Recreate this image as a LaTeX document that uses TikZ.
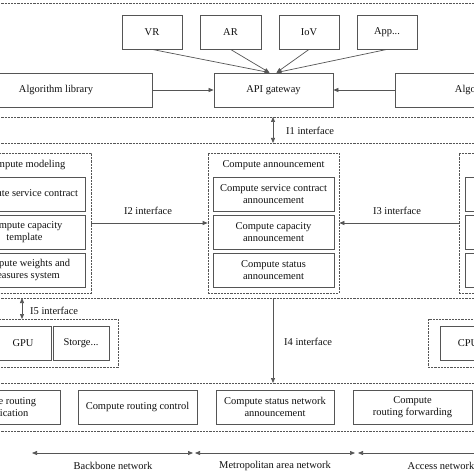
\documentclass[tikz,border=0pt]{standalone}
\usepackage{fontspec}
\setmainfont{Liberation Serif}
\usetikzlibrary{arrows.meta}
\definecolor{linegray}{HTML}{555555}
\definecolor{txtgray}{HTML}{111111}
\tikzset{
  every node/.style={font=\fontsize{10.5}{12.5}\selectfont, text=txtgray, inner sep=0pt, align=center},
  box/.style={draw=linegray, line width=0.8bp, minimum height=34bp},
  dbox/.style={draw=linegray, line width=0.7bp, dash pattern=on 2.2bp off 1bp},
  dline/.style={draw=linegray, line width=0.7bp, dash pattern=on 2.2bp off 1bp},
  conn/.style={draw=linegray, line width=0.7bp, -{Triangle[length=5bp,width=4bp]}},
  bconn/.style={draw=linegray, line width=0.7bp, {Triangle[length=5bp,width=4bp]}-{Triangle[length=5bp,width=4bp]}},
  lbl/.style={anchor=base west}
}
\begin{document}
\begin{tikzpicture}[x=1bp,y=-1bp]
\useasboundingbox (0,0) rectangle (474,474);
\clip (0,0) rectangle (474,474);
\fill[white] (0,0) rectangle (474,474);

% horizontal dashed separators
\foreach \yy in {3,117,143,298,383,431}
  \draw[dline] (-5,\yy) -- (480,\yy);

% top application boxes
\node[box, minimum width=60bp] (vr)  at (152,32)   {VR};
\node[box, minimum width=61bp] (ar)  at (230.5,32) {AR};
\node[box, minimum width=60bp] (iov) at (309,32)   {IoV};
\node[box, minimum width=60bp] (app) at (387,32)   {App...};

% gateway row
\node[box, minimum width=192bp] (alg)  at (56,90)    {Algorithm library};
\node[box, minimum width=119bp] (api)  at (273.5,90) {API gateway};
\node[box, minimum width=194bp] (alg2) at (492,90)   {Algorithm library};

\draw[conn] (vr.south)  -- ([xshift=-4bp]api.north);
\draw[conn] (ar.south)  -- ([xshift=-4bp]api.north);
\draw[conn] (iov.south) -- ([xshift=3bp]api.north);
\draw[conn] (app.south) -- ([xshift=3bp]api.north);
\draw[conn] (alg.east)  -- (api.west);
\draw[conn] (alg2.west) -- (api.east);

% I1
\coordinate (i1a) at (273,117);
\coordinate (i1b) at (273,143);
\draw[bconn] (i1a) -- (i1b);
\node[lbl] (i1l) at (286,135) {I1 interface};

% middle dashed groups
\node[dbox, minimum width=132bp, minimum height=140bp] (model) at (25,223) {};
\node[dbox, minimum width=131bp, minimum height=140bp] (ann)   at (273.5,223) {};
\node[dbox, minimum width=131bp, minimum height=140bp] (rgrp)  at (524.5,223) {};

\node (modelt) at (25,165)    {Compute modeling};
\node (annt)   at (273.5,165) {Compute announcement};

\node[box, minimum width=121bp] (m1) at (24.5,194) {Compute service contract};
\node[box, minimum width=121bp] (m2) at (24.5,232) {Compute capacity\\template};
\node[box, minimum width=121bp] (m3) at (24.5,270) {Compute weights and\\measures system};

\node[box, minimum width=121bp] (a1) at (273.5,194) {Compute service contract\\announcement};
\node[box, minimum width=121bp] (a2) at (273.5,232) {Compute capacity\\announcement};
\node[box, minimum width=121bp] (a3) at (273.5,270) {Compute status\\announcement};

\node[box, minimum width=121bp] (r1) at (525.5,194) {};
\node[box, minimum width=121bp] (r2) at (525.5,232) {};
\node[box, minimum width=121bp] (r3) at (525.5,270) {};

\draw[conn] (model.east) -- (ann.west);
\node (i2l) at (148,211) {I2 interface};
\draw[conn] (rgrp.west) -- (ann.east);
\node (i3l) at (397,211) {I3 interface};

% I5
\coordinate (i5a) at (22,298);
\coordinate (i5b) at (22,319);
\draw[bconn] (i5a) -- (i5b);
\node[lbl] (i5l) at (30,314) {I5 interface};

% resource groups
\node[dbox, minimum width=133bp, minimum height=48bp] (resl) at (51.5,343) {};
\node[box, minimum width=56bp] (gpu) at (23,343) {GPU};
\node[box, minimum width=56bp] (sto) at (81,343) {Storge...};
\node[dbox, minimum width=133bp, minimum height=48bp] (resr) at (494.5,343) {};
\node[box, minimum width=56bp] (cpu) at (468,343) {CPU};

% I4
\coordinate (i4a) at (273,298);
\coordinate (i4b) at (273,383);
\draw[conn] (i4a) -- (i4b);
\node[lbl] (i4l) at (284,345) {I4 interface};

% routing row
\node[box, minimum width=119bp] (rt1) at (0.5,407)   {Compute routing\\identification};
\node[box, minimum width=119bp] (rt2) at (137.5,407) {Compute routing control};
\node[box, minimum width=118bp] (rt3) at (275,407)   {Compute status network\\announcement};
\node[box, minimum width=119bp] (rt4) at (412.5,407) {Compute\\routing forwarding};

% network spans
\coordinate (b1) at (32,453);  \coordinate (b2) at (193,453);
\coordinate (m1s) at (195,453); \coordinate (m2s) at (355,453);
\coordinate (c1) at (358,453); \coordinate (c2) at (524,453);
\draw[bconn] (b1) -- (b2);
\draw[bconn] (m1s) -- (m2s);
\draw[bconn] (c1) -- (c2);
\node (bbl) at (113,466) {Backbone network};
\node (mtl) at (275,466) {Metropolitan area network};
\node (acl) at (441,466) {Access network};
\end{tikzpicture}
\end{document}
